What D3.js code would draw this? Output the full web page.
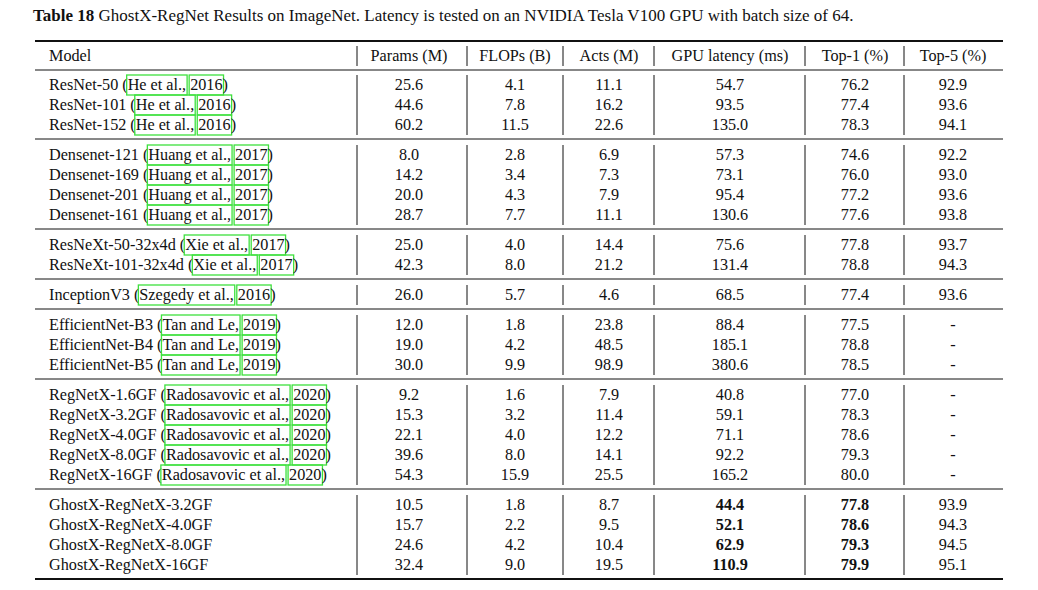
<!DOCTYPE html>
<html><head><meta charset="utf-8">
<script src="https://cdn.jsdelivr.net/npm/d3@7"></script>
<style>body{margin:0;background:#fff}text{font-family:"Liberation Serif","DejaVu Serif",serif;fill:#111}</style>
</head><body><svg id="c" width="1038" height="590"></svg>
<script>
const columns = ["Model","Params (M)","FLOPs (B)","Acts (M)","GPU latency (ms)","Top-1 (%)","Top-5 (%)"];
const models = ["ResNet-50","ResNet-101","ResNet-152","Densenet-121","Densenet-169","Densenet-201","Densenet-161","ResNeXt-50-32x4d","ResNeXt-101-32x4d","InceptionV3","EfficientNet-B3","EfficientNet-B4","EfficientNet-B5","RegNetX-1.6GF","RegNetX-3.2GF","RegNetX-4.0GF","RegNetX-8.0GF","RegNetX-16GF","GhostX-RegNetX-3.2GF","GhostX-RegNetX-4.0GF","GhostX-RegNetX-8.0GF","GhostX-RegNetX-16GF"];
const citeAuthors = ["He et al.,","He et al.,","He et al.,","Huang et al.,","Huang et al.,","Huang et al.,","Huang et al.,","Xie et al.,","Xie et al.,","Szegedy et al.,","Tan and Le,","Tan and Le,","Tan and Le,","Radosavovic et al.,","Radosavovic et al.,","Radosavovic et al.,","Radosavovic et al.,","Radosavovic et al.,","","","",""];
const citeYears = ["2016","2016","2016","2017","2017","2017","2017","2017","2017","2016","2019","2019","2019","2020","2020","2020","2020","2020","","","",""];
const groups = [0,0,0,1,1,1,1,2,2,3,4,4,4,5,5,5,5,5,6,6,6,6];
const params = ["25.6","44.6","60.2","8.0","14.2","20.0","28.7","25.0","42.3","26.0","12.0","19.0","30.0","9.2","15.3","22.1","39.6","54.3","10.5","15.7","24.6","32.4"];
const flops = ["4.1","7.8","11.5","2.8","3.4","4.3","7.7","4.0","8.0","5.7","1.8","4.2","9.9","1.6","3.2","4.0","8.0","15.9","1.8","2.2","4.2","9.0"];
const acts = ["11.1","16.2","22.6","6.9","7.3","7.9","11.1","14.4","21.2","4.6","23.8","48.5","98.9","7.9","11.4","12.2","14.1","25.5","8.7","9.5","10.4","19.5"];
const latency = ["54.7","93.5","135.0","57.3","73.1","95.4","130.6","75.6","131.4","68.5","88.4","185.1","380.6","40.8","59.1","71.1","92.2","165.2","44.4","52.1","62.9","110.9"];
const top1 = ["76.2","77.4","78.3","74.6","76.0","77.2","77.6","77.8","78.8","77.4","77.5","78.8","78.5","77.0","78.3","78.6","79.3","80.0","77.8","78.6","79.3","79.9"];
const top5 = ["92.9","93.6","94.1","92.2","93.0","93.6","93.8","93.7","94.3","93.6","-","-","-","-","-","-","-","-","93.9","94.3","94.5","95.1"];
const boldRows = [18,19,20,21];

const svg = d3.select("#c");
const fs = 16.2;
const t = svg.append("text").attr("x",33).attr("y",21).attr("font-size",17);
t.append("tspan").attr("font-weight","bold").text("Table 18");
t.append("tspan").text("  GhostX-RegNet Results on ImageNet. Latency is tested on an NVIDIA Tesla V100 GPU with batch size of 64.");

const x0=35,x1=1003;
const colCenter = d3.scaleOrdinal().domain(columns.slice(1)).range([409,515,609,730,855,953]);
const seps = [357,467,563,654,805,904];
const rowY = [];
let y=90;
for(let i=0;i<models.length;i++){ if(i>0 && groups[i]!==groups[i-1]) y+=10; rowY.push(y); y+=20; }
const line=(ya,w)=>svg.append("line").attr("x1",x0).attr("x2",x1).attr("y1",ya).attr("y2",ya).attr("stroke","#111").attr("stroke-width",w);
line(41,2.2); line(70,1);
for(let i=1;i<models.length;i++) if(groups[i]!==groups[i-1]) line(rowY[i]-21,1);
line(rowY[rowY.length-1]+9,2.2);
seps.forEach(sx=>{
  svg.append("line").attr("x1",sx).attr("x2",sx).attr("y1",46).attr("y2",66).attr("stroke","#111");
  for(let i=0;i<models.length;i++) svg.append("line").attr("x1",sx).attr("x2",sx).attr("y1",rowY[i]-15).attr("y2",rowY[i]+5).attr("stroke","#111");
});
svg.append("text").attr("x",49).attr("y",61).attr("font-size",fs).text(columns[0]);
columns.slice(1).forEach(c=>svg.append("text").attr("x",colCenter(c)).attr("y",61).attr("text-anchor","middle").attr("font-size",fs).text(c));
function seg(x,yy,s){const e=svg.append("text").attr("x",x).attr("y",yy).attr("font-size",fs).attr("xml:space","preserve").text(s);return e.node().getComputedTextLength();}
models.forEach((m,i)=>{
  const yy=rowY[i]; let x=49;
  if(!citeAuthors[i]){seg(x,yy,m);return;}
  x+=seg(x,yy,m+" (");
  const w1=seg(x,yy,citeAuthors[i]);
  svg.append("rect").attr("x",x-1).attr("y",yy-15).attr("width",w1+2).attr("height",20).attr("fill","none").attr("stroke","#3ee03e").attr("stroke-width",1.3);
  x+=w1+seg(x+w1,yy," ");
  const w2=seg(x,yy,citeYears[i]);
  svg.append("rect").attr("x",x-1).attr("y",yy-15).attr("width",w2+2).attr("height",20).attr("fill","none").attr("stroke","#3ee03e").attr("stroke-width",1.3);
  x+=w2; seg(x,yy,")");
});
const cols=[params,flops,acts,latency,top1,top5];
cols.forEach((arr,ci)=>{
  arr.forEach((v,i)=>{
    const b = boldRows.includes(i) && (ci===3||ci===4);
    svg.append("text").attr("x",colCenter(columns[ci+1])).attr("y",rowY[i]).attr("text-anchor","middle").attr("font-size",fs).attr("font-weight",b?"bold":"normal").text(v);
  });
});
</script></body></html>
